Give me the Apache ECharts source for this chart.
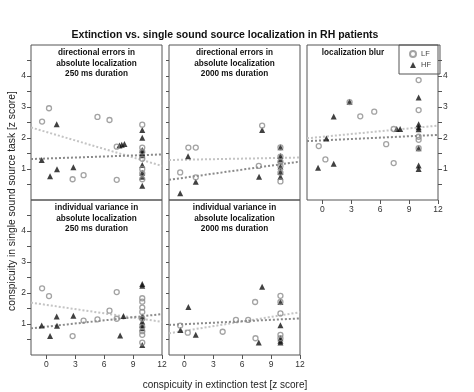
<!DOCTYPE html>
<html>
<head>
<meta charset="utf-8">
<script src="https://cdn.jsdelivr.net/npm/echarts@6/dist/echarts.min.js"></script>
<style>
  html, body { margin: 0; padding: 0; background: #fff; }
  #chart { width: 474px; height: 392px; }
</style>
</head>
<body>
<div id="chart"></div>
<script>
// extinction score (x) vs single sound source task score (y), per panel
var dirErr250LF = [[0.27,2.96],[-0.45,2.53],[5.3,2.68],[6.55,2.58],[7.3,1.72],[2.72,0.67],[3.86,0.8],[7.3,0.65],
  [9.95,2.43],[9.95,1.69],[9.95,1.56],[9.95,1.33],[9.95,1.0],[9.95,0.86],[9.95,0.67]];
var dirErr250HF = [[-0.49,1.29],[1.07,2.44],[0.38,0.77],[1.1,0.99],[2.8,1.06],[7.58,1.76],[7.82,1.78],[8.1,1.81],
  [9.95,2.26],[9.95,2.01],[9.95,1.61],[9.95,1.5],[9.95,1.44],[9.95,1.13],[9.95,0.88],[9.95,0.75],[9.95,0.46]];

var dirErr2000LF = [[-0.44,0.89],[0.41,1.69],[1.18,1.69],[1.18,0.73],[8.07,2.4],[7.72,1.1],
  [9.97,1.7],[9.97,1.4],[9.97,1.24],[9.97,1.1],[9.97,0.88],[9.97,0.6]];
var dirErr2000HF = [[-0.44,0.22],[0.38,1.41],[1.18,0.59],[8.07,2.26],[7.75,0.75],
  [9.97,1.7],[9.97,1.42],[9.97,1.31],[9.97,1.08],[9.97,0.91],[9.97,0.75]];

var blurLF = [[-0.38,1.74],[0.31,1.31],[2.82,3.16],[3.93,2.7],[5.38,2.85],[6.62,1.8],[7.4,1.19],[7.4,2.29],
  [9.99,3.87],[9.99,2.9],[9.99,2.04],[9.99,1.94],[9.99,1.67]];
var blurHF = [[-0.45,1.04],[0.41,1.98],[1.17,2.69],[1.17,1.17],[2.82,3.17],[7.72,2.29],[8.07,2.29],
  [9.99,3.31],[9.99,2.44],[9.99,2.35],[9.99,2.28],[9.99,1.67],[9.99,1.11],[9.99,1.0]];

var var250LF = [[-0.45,2.15],[0.27,1.9],[2.72,0.61],[3.86,1.11],[5.3,1.15],[6.55,1.43],[7.3,2.03],[7.3,1.17],
  [9.95,1.83],[9.95,1.72],[9.95,1.53],[9.95,1.39],[9.95,1.17],[9.95,0.91],[9.95,0.77],[9.95,0.65],[9.95,0.4]];
var var250HF = [[-0.49,0.95],[0.38,0.61],[1.07,1.24],[1.1,0.94],[2.8,1.27],[8.0,1.26],[7.65,0.63],
  [9.95,2.29],[9.95,2.23],[9.95,1.24],[9.95,1.07],[9.95,0.97],[9.95,0.86],[9.95,0.32]];

var var2000LF = [[-0.44,0.95],[0.35,0.72],[3.97,0.75],[5.35,1.13],[6.62,1.13],[7.34,1.71],[7.38,0.54],
  [9.97,1.91],[9.97,1.71],[9.97,1.34],[9.97,0.65],[9.97,0.54]];
var var2000HF = [[-0.41,0.81],[0.41,1.55],[1.18,0.65],[8.07,2.2],[7.72,0.4],
  [9.97,1.71],[9.97,0.96],[9.97,0.54],[9.97,0.46],[9.97,0.4]];

// fitted lines, value at the left and right edge of each panel
var fitLF = [[2.34,1.1],[1.29,1.37],[1.99,2.4],[1.69,1.07],[0.7,1.38]];
var fitHF = [[1.32,1.47],[0.65,1.24],[1.9,2.1],[0.86,1.32],[0.97,1.18]];

var panelTitles = [
  'directional errors in\nabsolute localization\n250 ms duration',
  'directional errors in\nabsolute localization\n2000 ms duration',
  'localization blur',
  'individual variance in\nabsolute localization\n250 ms duration',
  'individual variance in\nabsolute localization\n2000 ms duration'
];
var xTicks = [0, 3, 6, 9, 12];
var yTicks = [0.5, 1, 1.5, 2, 2.5, 3, 3.5, 4, 4.5];
var yLabels = [1, 2, 3, 4];
var xMin = -1.6, xMax = 12;

var lfData = [dirErr250LF, dirErr2000LF, blurLF, var250LF, var2000LF];
var hfData = [dirErr250HF, dirErr2000HF, blurHF, var250HF, var2000HF];

var font = 'Liberation Sans, Arial, Helvetica, sans-serif';
var boxes = [
  {left: 31, top: 45}, {left: 169, top: 45}, {left: 307, top: 45},
  {left: 31, top: 200}, {left: 169, top: 200}
];

var grid = [], xAxis = [], yAxis = [], series = [], graphic = [];

boxes.forEach(function (b, i) {
  grid.push({left: b.left, top: b.top, width: 131, height: 155, show: true,
    borderColor: '#555', borderWidth: 1, backgroundColor: 'transparent'});

  var showX = (i >= 2);
  xAxis.push({
    gridIndex: i, type: 'value', min: xMin, max: xMax, position: 'bottom',
    axisLine: {show: false, onZero: false}, splitLine: {show: false},
    axisTick: {show: showX, length: 4, customValues: xTicks, lineStyle: {color: '#555'}},
    axisLabel: {show: showX, customValues: xTicks, fontSize: 8.5, color: '#333', margin: 5, fontFamily: font}
  });

  var labelled = (i === 0 || i === 2 || i === 3);
  yAxis.push({
    gridIndex: i, type: 'value', min: 0, max: 5,
    position: i === 2 ? 'right' : 'left',
    axisLine: {show: false, onZero: false}, splitLine: {show: false},
    axisTick: {show: true, length: labelled ? 4 : 3, customValues: yTicks, lineStyle: {color: '#555'}},
    axisLabel: {show: labelled, customValues: yLabels, fontSize: 8.5, color: '#333', margin: 5, fontFamily: font}
  });

  series.push({
    type: 'line', name: 'fitLF' + i, xAxisIndex: i, yAxisIndex: i, silent: true,
    data: [[xMin, fitLF[i][0]], [xMax, fitLF[i][1]]],
    symbol: 'none', lineStyle: {type: [2, 2], width: 2, color: '#c4c4c4'}, z: 1
  });
  series.push({
    type: 'line', name: 'fitHF' + i, xAxisIndex: i, yAxisIndex: i, silent: true,
    data: [[xMin, fitHF[i][0]], [xMax, fitHF[i][1]]],
    symbol: 'none', lineStyle: {type: [2, 2], width: 2, color: '#8a8a8a'}, z: 1
  });
  series.push({
    type: 'scatter', name: 'HF', xAxisIndex: i, yAxisIndex: i,
    data: hfData[i], symbol: 'triangle', symbolSize: 6,
    itemStyle: {color: '#111'}, z: 2
  });
  series.push({
    type: 'scatter', name: 'LF', xAxisIndex: i, yAxisIndex: i,
    data: lfData[i], symbol: 'circle', symbolSize: 5,
    itemStyle: {color: 'rgba(255,255,255,0)', borderColor: '#8c8c8c', borderWidth: 1.3}, z: 3
  });

  graphic.push({
    type: 'text', x: i === 2 ? 353 : b.left + 65.5, y: b.top + 3,
    style: {text: panelTitles[i], align: 'center', verticalAlign: 'top', fontSize: 8.2,
      fontWeight: 'bold', lineHeight: 10.3, fill: '#111', fontFamily: font}
  });
});

graphic.push({
  type: 'text', x: 225, y: 35,
  style: {text: 'Extinction vs. single sound source localization in RH patients', align: 'center',
    verticalAlign: 'middle', fontSize: 10.5, fontWeight: 'bold', fill: '#111', fontFamily: font}
});
graphic.push({
  type: 'text', x: 225, y: 385,
  style: {text: 'conspicuity in extinction test [z score]', align: 'center',
    verticalAlign: 'middle', fontSize: 10, fill: '#222', fontFamily: font}
});
graphic.push({
  type: 'text', x: 12, y: 201, rotation: Math.PI / 2,
  style: {text: 'conspicuity in single sound source task [z score]', align: 'center',
    verticalAlign: 'middle', fontSize: 10.3, fill: '#222', fontFamily: font}
});

var chart = echarts.init(document.getElementById('chart'));
chart.setOption({
  animation: false,
  backgroundColor: '#fff',
  textStyle: {fontFamily: font},
  grid: grid,
  xAxis: xAxis,
  yAxis: yAxis,
  legend: {
    left: 399, top: 45, orient: 'vertical', selectedMode: false,
    itemWidth: 6, itemHeight: 6, itemGap: 3, padding: [5, 9, 5, 10],
    borderColor: '#555', borderWidth: 1,
    textStyle: {fontSize: 7.5, color: '#444', fontFamily: font},
    data: ['LF', 'HF']
  },
  series: series,
  graphic: graphic
});
</script>
</body>
</html>
